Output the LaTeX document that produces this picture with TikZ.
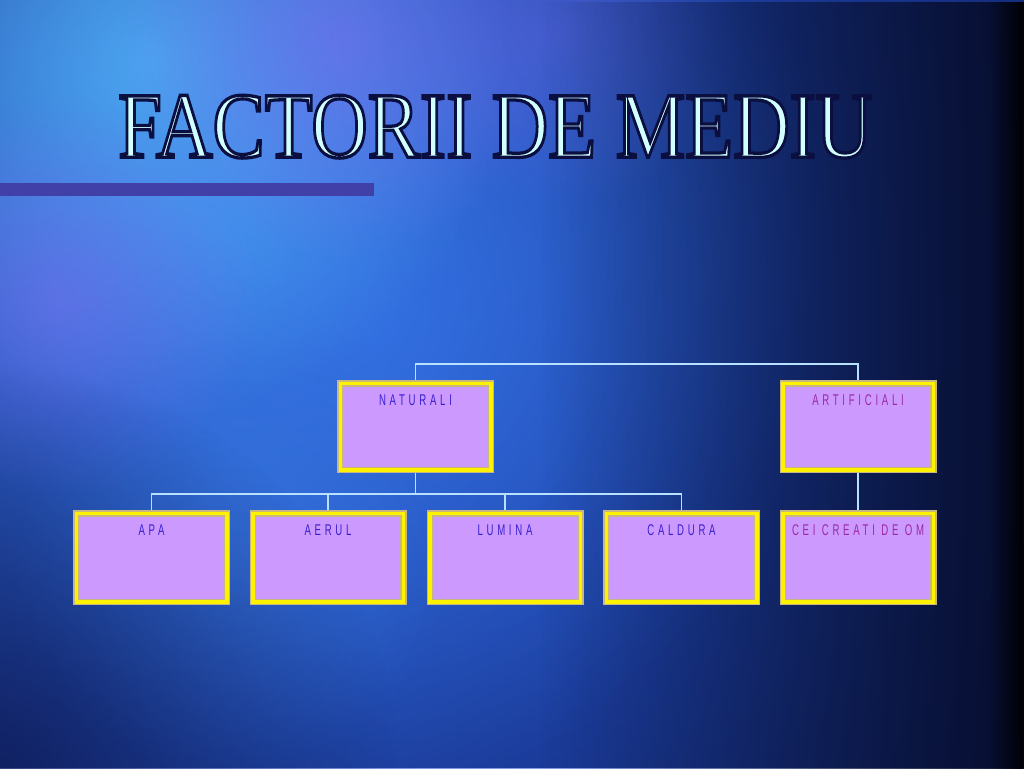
\documentclass[tikz,border=0pt]{standalone}
\usepackage{fontspec}
\setmainfont{Liberation Sans}
\newfontfamily\titlefont{Liberation Serif}
\newfontfamily\boxfont[FakeStretch=0.62,LetterSpace=24]{Liberation Sans}
\usetikzlibrary{fadings}
\definecolor{bgbase}{HTML}{0D1850}
\definecolor{bigblue}{HTML}{2656D0}
\definecolor{midblue}{HTML}{3F86F0}
\definecolor{cyanglow}{HTML}{58C0FF}
\definecolor{violet}{HTML}{7A6CF0}
\definecolor{darkright}{HTML}{060C2A}
\definecolor{barblue}{HTML}{4040A8}
\definecolor{titlecyan}{HTML}{D2FFFF}
\definecolor{boxtan}{HTML}{C8B880}
\definecolor{boxyellow}{HTML}{FFF200}
\definecolor{lilac}{HTML}{CC99FF}
\definecolor{natblue}{HTML}{3A1FD0}
\definecolor{artpurple}{HTML}{9A2AA0}
\definecolor{connblue}{HTML}{B8E0FF}
\tikzfading[name=blob, inner color=transparent!0, outer color=transparent!100]
\tikzfading[name=fadeR, left color=transparent!100, right color=transparent!0]
\newcommand{\titletext}{\resizebox{754pt}{62pt}{\titlefont\special{pdf:code 2 Tr 0.35 w 0.04 0.06 0.25 RG}FACTORII DE MEDIU\special{pdf:code 0 Tr}}}
\begin{document}
\begin{tikzpicture}[x=1pt,y=-1pt,
  box/.style={draw=boxtan, line width=1.5pt, double=boxyellow, double distance=3.5pt,
    fill=lilac, minimum width=150.5pt, inner sep=0pt, outer sep=3.25pt},
  toprow/.style={box, minimum height=86.5pt},
  botrow/.style={box, minimum height=88.5pt},
  lbl/.style={anchor=north, yshift=-14.5pt, inner sep=0pt, font=\boxfont\fontsize{15.5}{15.5}\selectfont},
  lblN/.style={lbl, text=natblue},
  lblA/.style={lbl, text=artpurple},
  conn/.style={draw=connblue, line width=1.2pt},
  glow/.style={path fading=blob}]
\useasboundingbox (0,0) rectangle (1024,768);
% background
\fill[bgbase] (0,0) rectangle (1024,768);
\fill[bigblue, glow] (380,330) circle[radius=1100];
\fill[midblue, glow, opacity=.75] (230,240) circle[radius=600];
\fill[cyanglow, glow, opacity=.7] (150,60) circle[radius=360];
\fill[violet, glow, opacity=.6] (340,40) circle[radius=220];
\fill[violet, glow, opacity=.55] (60,300) circle[radius=200];
\fill[violet, glow, opacity=.35] (560,30) circle[radius=180];
\fill[midblue, glow, opacity=.4] (230,560) circle[radius=220];
\fill[bgbase, glow, opacity=.7] (0,768) circle[radius=400];
\fill[darkright, path fading=fadeR, opacity=.95] (540,0) rectangle (1024,768);
\fill[black, path fading=fadeR, opacity=.9] (990,0) rectangle (1024,768);
% title
\node[inner sep=0pt, anchor=north west, text=titlecyan] (title) at (118,95) {\titletext};
\fill[barblue] (0,183) rectangle (374,196);
% boxes
\node[toprow, label={[lblN]north:NATURALI}] (nat) at (415.5,426.5) {};
\node[toprow, label={[lblA]north:ARTIFICIALI}] (art) at (858,426.5) {};
\node[botrow, label={[lblN]north:APA}] (apa) at (151.5,557.5) {};
\node[botrow, label={[lblN]north:AERUL}] (aer) at (328,557.5) {};
\node[botrow, label={[lblN]north:LUMINA}] (lum) at (505,557.5) {};
\node[botrow, label={[lblN]north:CALDURA}] (cal) at (681.5,557.5) {};
\node[botrow, label={[lblA]north:CEI CREATI DE OM}] (cei) at (858,557.5) {};
% connectors
\draw[conn] (nat.north) -- ++(0,-16) -| (art.north);
\coordinate (j) at (415.5,494);
\draw[conn] (nat.south) -- (j);
\draw[conn] (apa.north) |- (j) -| (cal.north);
\draw[conn] (aer.north) -- (aer.north |- j);
\draw[conn] (lum.north) -- (lum.north |- j);
\draw[conn] (art.south) -- (cei.north);
\end{tikzpicture}
\end{document}
